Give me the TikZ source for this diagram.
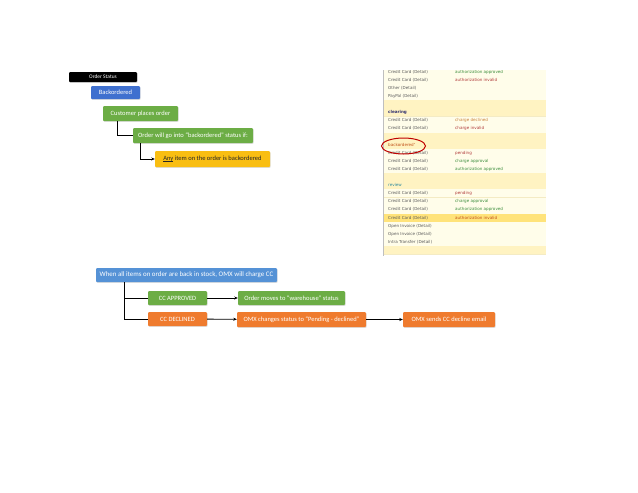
\documentclass[tikz,border=0pt]{standalone}
\usepackage{fontspec}
\setmainfont{Carlito}
\newfontfamily\tabfont{DejaVu Sans}
\usetikzlibrary{arrows.meta,calc,shadows}
\definecolor{bxblue}{HTML}{3F70CF}
\definecolor{bxblueB}{HTML}{5592D6}
\definecolor{bxgreen}{HTML}{6CAD45}
\definecolor{bxorange}{HTML}{EF7B2E}
\definecolor{bxyellow}{HTML}{F9BE12}
\definecolor{rowA}{HTML}{FFFDEA}
\definecolor{rowS}{HTML}{FFF3C2}
\definecolor{rowH}{HTML}{FFE37A}
\definecolor{rowsep}{HTML}{F4EBC4}
\definecolor{tgrey}{HTML}{5A5A5A}
\definecolor{tred}{HTML}{B03A3A}
\definecolor{tgreen}{HTML}{3E8E3E}
\definecolor{torange}{HTML}{C8803A}
\definecolor{tnavy}{HTML}{2F2F6F}
\definecolor{tbrown}{HTML}{C0501A}
\definecolor{tteal}{HTML}{2E8BA0}
\newsavebox\myulbox
\newcommand\myul[1]{\sbox\myulbox{#1}\rlap{\rule[-1pt]{\wd\myulbox}{0.45pt}}#1}
\begin{document}
\begin{tikzpicture}[x=1pt,y=-1pt,
  box/.style={rectangle, rounded corners=1pt, inner sep=0pt, text=white,
    font=\fontsize{6.5}{7.5}\selectfont,
    drop shadow={opacity=0.25, shadow xshift=0.6pt, shadow yshift=-0.9pt}},
  conn/.style={draw=black, line width=0.8pt},
  arr/.style={conn, -{Stealth[length=3.5pt,width=3pt]}},
  c1/.style={font=\tabfont\fontsize{4.1}{4.5}\selectfont, text=tgrey, anchor=west, inner sep=0pt},
  c2/.style={font=\tabfont\fontsize{4.1}{4.5}\selectfont, anchor=west, inner sep=0pt}
]
\useasboundingbox (0,0) rectangle (638,493);
\fill[white] (0,0) rectangle (638,493);

% ---------- upper flow ----------
\node[box, fill=black, minimum width=68pt, minimum height=10pt, font=\fontsize{5.4}{6}\selectfont] (status) at (103,77) {Order Status};
\node[box, fill=bxblue, minimum width=49pt, minimum height=13pt] (back) at (115.5,92.5) {Backordered};
\node[box, fill=bxgreen, minimum width=75pt, minimum height=15pt] (cust) at (140.5,113.5) {Customer places order};
\node[box, fill=bxgreen, minimum width=120pt, minimum height=15pt] (willgo) at (193,135.5) {Order will go into ``backordered'' status if:};
\node[box, fill=bxyellow, text=black!85, minimum width=115pt, minimum height=16pt] (any) at (212.5,159) {\myul{Any} item on the order is backordered};

\draw[conn] ([xshift=15pt]cust.south west) |- (willgo.west);
\draw[arr] ([xshift=8pt]willgo.south west) |- (any.west);

% ---------- lower flow ----------
\node[box, fill=bxblueB, minimum width=181pt, minimum height=14pt, font=\fontsize{6.9}{8}\selectfont] (when) at (186.5,275) {When all items on order are back in stock, OMX will charge CC};
\node[box, fill=bxgreen, minimum width=59pt, minimum height=14pt] (ccA) at (177.5,298) {CC APPROVED};
\node[box, fill=bxgreen, minimum width=107pt, minimum height=14pt] (moves) at (291.5,298) {Order moves to ``warehouse'' status};
\node[box, fill=bxorange, minimum width=59pt, minimum height=14pt] (ccD) at (177.5,319) {CC DECLINED};
\node[box, fill=bxorange, minimum width=129pt, minimum height=15pt] (pend) at (301.5,319.5) {OMX changes status to ``Pending - declined''};
\node[box, fill=bxorange, minimum width=92pt, minimum height=15pt] (email) at (449,319.5) {OMX sends CC decline email};

\coordinate (wtap) at ([xshift=29pt]when.south west);
\draw[conn] (wtap) |- (ccA.west);
\draw[conn] (wtap) |- (ccD.west);
\draw[arr] (ccA) -- (moves);
\draw[arr] (ccD) -- (pend);
\draw[arr] (pend) -- (email);

% ---------- screenshot table ----------
\begin{scope}
\clip (383,70) rectangle (546,256);
\foreach \i/\bg in {0/rowA,1/rowA,2/rowA,3/rowA,4/rowS,5/rowS,6/rowA,7/rowA,8/rowS,9/rowS,10/rowA,11/rowA,12/rowA,13/rowS,14/rowS,15/rowA,16/rowA,17/rowA,18/rowH,19/rowA,20/rowA,21/rowA,22/rowS}{
  \fill[\bg] (383,67.95+8.1*\i) rectangle (546,67.95+8.1*\i+8.1);
  \draw[rowsep, line width=0.3pt] (383,67.95+8.1*\i+8.1) -- (546,67.95+8.1*\i+8.1);
}
\draw[black!25, line width=0.4pt] (383.3,68) -- (383.3,256);
\foreach \i/\a/\b/\col in {0/Credit Card (Detail)/authorization approved/tgreen,
  1/Credit Card (Detail)/authorization invalid/tred,
  2/Other (Detail)//tgrey,
  3/PayPal (Detail)//tgrey,
  6/Credit Card (Detail)/charge declined/torange,
  7/Credit Card (Detail)/charge invalid/tred,
  10/Credit Card (Detail)/pending/tred,
  11/Credit Card (Detail)/charge approval/tgreen,
  12/Credit Card (Detail)/authorization approved/tgreen,
  15/Credit Card (Detail)/pending/tred,
  16/Credit Card (Detail)/charge approval/tgreen,
  17/Credit Card (Detail)/authorization approved/tgreen,
  18/Credit Card (Detail)/authorization invalid/tbrown,
  19/Open Invoice (Detail)//tgrey,
  20/Open Invoice (Detail)//tgrey,
  21/Intra Transfer (Detail)//tgrey}{
  \node[c1] (ta\i) at (388,72+8.1*\i) {\a};
  \node[c2, text=\col] (tb\i) at (455,72+8.1*\i) {\b};
}
\node[c1, text=tnavy, font=\tabfont\bfseries\fontsize{4.1}{4.5}\selectfont] (hclear) at (388,72+8.1*5) {clearing};
\node[c1, text=tbrown] (hback) at (388,72+8.1*9) {backordered\raisebox{0.8pt}{\fontsize{2.8}{3}\selectfont*}};
\node[c1, text=tteal] (hrev) at (388,72+8.1*14) {review};
\end{scope}
\draw[red!75!black, line width=1pt] (403.5,146) ellipse (22pt and 8pt);
\end{tikzpicture}
\end{document}
